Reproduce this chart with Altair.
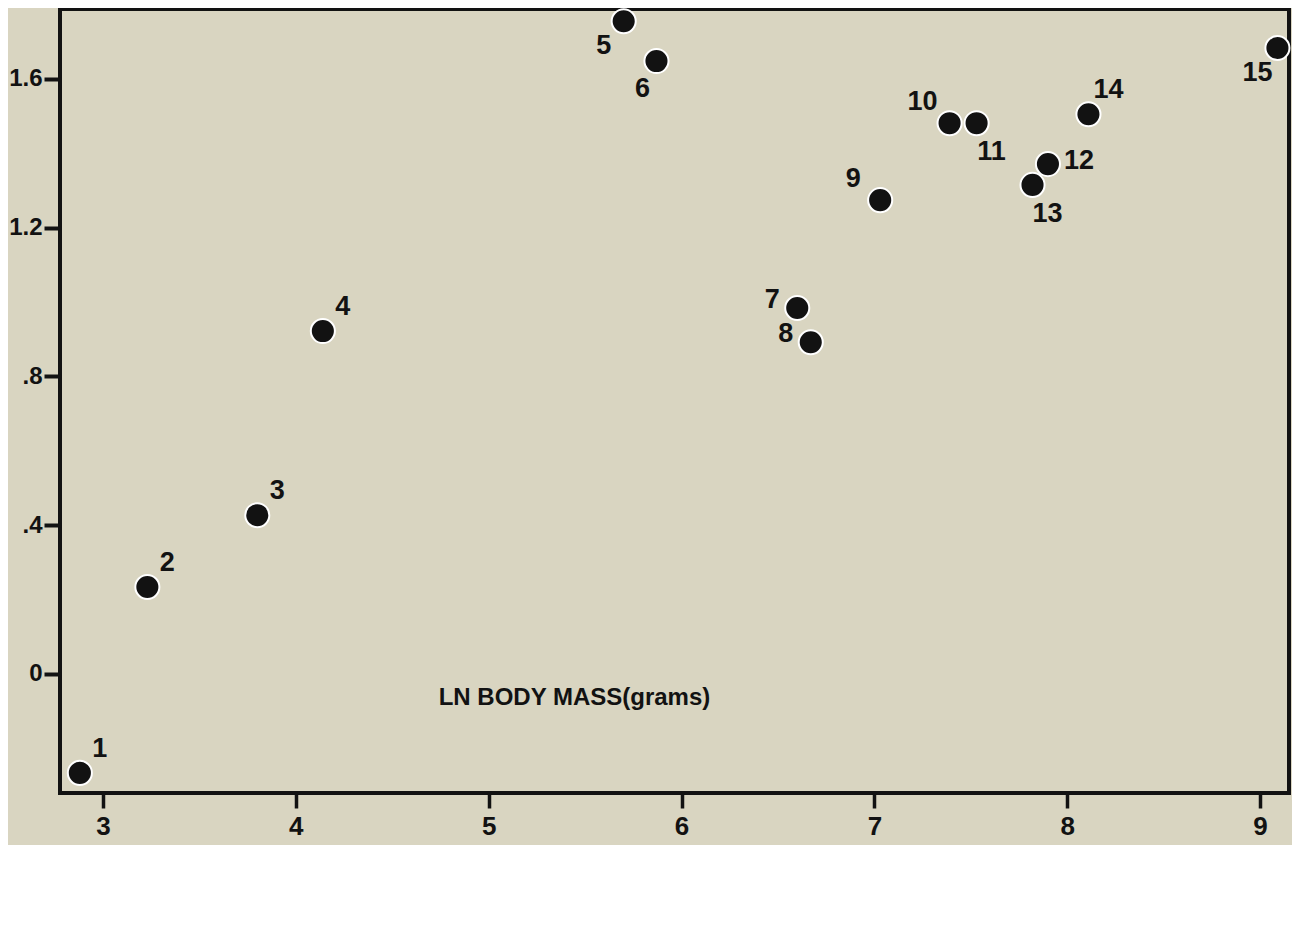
import altair as alt
import pandas as pd

# Data
ids = [str(i) for i in range(1, 16)]
ln_mass = [2.88, 3.23, 3.80, 4.14, 5.70, 5.87, 6.60, 6.67, 7.03, 7.39, 7.53, 7.90, 7.82, 8.11, 9.09]
y_vals = [-0.266, 0.234, 0.427, 0.922, 1.755, 1.648, 0.984, 0.892, 1.274, 1.481, 1.481, 1.371, 1.315, 1.505, 1.683]
label_side = ["NE", "NE", "NE", "NE", "SW", "S", "W", "W", "NW", "NW", "SE", "E", "SE", "NE", "SW"]

x_tick_values = [3, 4, 5, 6, 7, 8, 9]
x_tick_labels = ["3", "4", "5", "6", "7", "8", "9"]
y_tick_values = [0, 0.4, 0.8, 1.2, 1.6]
y_tick_labels = ["0", ".4", ".8", "1.2", "1.6"]

x_title = "LN BODY MASS(grams)"

df = pd.DataFrame({"id": ids, "x": ln_mass, "y": y_vals, "side": label_side})

# style
INK = "#121212"
BG = "#d9d5c1"
FONT = "Liberation Sans"

offsets = {
    "NE": (20, -24),
    "SW": (-20, 25),
    "S": (-14, 28),
    "W": (-25, -8),
    "NW": (-27, -21),
    "SE": (15, 29),
    "E": (31, -3),
}

def build_expr(values, labels):
    parts = []
    for v, l in zip(values, labels):
        parts.append(f"abs(datum.value - {v}) < 1e-6 ? '{l}' : ")
    return "".join(parts) + "''"

x_enc = alt.X(
    "x:Q",
    scale=alt.Scale(domain=[2.777, 9.150], nice=False, zero=False),
    axis=alt.Axis(
        values=x_tick_values,
        labelExpr=build_expr(x_tick_values, x_tick_labels),
        grid=False,
        domain=False,
        ticks=True,
        tickSize=15,
        tickWidth=3.5,
        tickColor=INK,
        labelFont=FONT,
        labelFontWeight="bold",
        labelFontSize=26,
        labelColor=INK,
        labelPadding=5,
        title=x_title,
        titleFont=FONT,
        titleFontWeight="bold",
        titleFontSize=24,
        titleColor=INK,
        titleX=514,
        titleY=-89,
        titleAlign="center",
        titleBaseline="alphabetic",
    ),
)
y_enc = alt.Y(
    "y:Q",
    scale=alt.Scale(domain=[-0.320, 1.788], nice=False, zero=False),
    axis=alt.Axis(
        values=y_tick_values,
        labelExpr=build_expr(y_tick_values, y_tick_labels),
        grid=False,
        domain=False,
        tickSize=16,
        tickWidth=4,
        tickColor=INK,
        labelFont=FONT,
        labelFontWeight="bold",
        labelFontSize=24,
        labelColor=INK,
        labelPadding=2,
        title=None,
    ),
)

base = alt.Chart(df)

points = base.mark_point(
    shape="circle", filled=True, fill=INK, stroke="white", strokeWidth=2, opacity=1, size=580
).encode(x=x_enc, y=y_enc)

layers = [points]
for side, (dx, dy) in offsets.items():
    layers.append(
        base.transform_filter(alt.datum.side == side)
        .mark_text(
            dx=dx, dy=dy, font=FONT, fontWeight="bold", fontSize=27, color=INK,
            align="center", baseline="middle",
        )
        .encode(x="x:Q", y="y:Q", text="id:N")
    )

chart = (
    alt.layer(*layers)
    .properties(
        width=1229,
        height=784,
        background=BG,
        autosize=alt.AutoSizeParams(type="none"),
        padding={"left": 52, "top": 1, "right": 3, "bottom": 52},
    )
    .configure_view(stroke=INK, strokeWidth=4)
)

chart.save("out.html", embed_options={"renderer": "svg", "actions": False})
